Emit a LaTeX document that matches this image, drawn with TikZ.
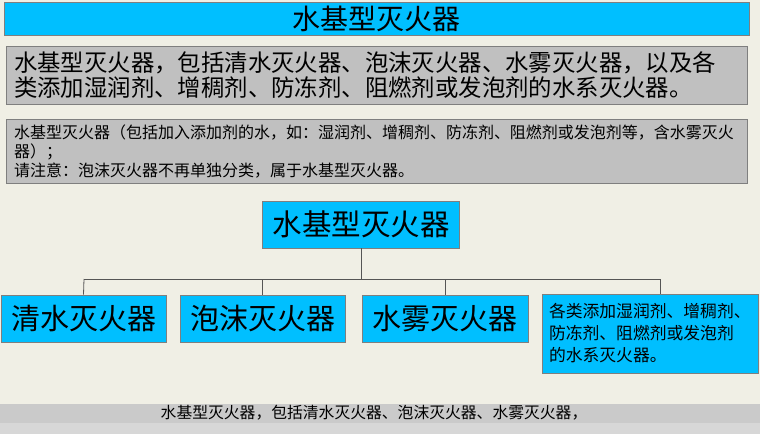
\documentclass[tikz,border=0pt]{standalone}
\usepackage{fontspec}
\setmainfont{Noto Sans CJK SC}
\definecolor{bg}{HTML}{F0EFE5}
\definecolor{skyb}{HTML}{00BFFF}
\definecolor{boxline}{HTML}{7F7F7F}
\definecolor{grayfill}{HTML}{C0C0C0}
\definecolor{barA}{HTML}{CACACA}
\definecolor{barB}{HTML}{D7D7D7}
\definecolor{conn}{HTML}{555555}
\begin{document}
\begin{tikzpicture}[x=1pt,y=-1pt,
  bluebox/.style={draw=boxline, fill=skyb, line width=0.8pt, inner sep=0pt, minimum height=47pt},
  graybox/.style={draw=boxline, fill=grayfill, line width=0.8pt, inner xsep=8pt, inner ysep=0pt, align=left},
  connline/.style={draw=conn, line width=0.8pt}]
\useasboundingbox (0,0) rectangle (760,434);
\fill[bg] (0,0) rectangle (760,434);
\fill[barA] (0,404) rectangle (760,423);
\fill[barB] (0,423) rectangle (760,434);

\node[bluebox, minimum width=745pt, minimum height=33pt, font=\fontsize{28}{30}\selectfont] (title) at (376.5,18.5) {水基型灭火器};

\node[graybox, minimum width=741pt, minimum height=58pt, text width=725pt, font=\fontsize{23.4}{25}\selectfont] (def) at (376.5,75.5) {水基型灭火器，包括清水灭火器、泡沫灭火器、水雾灭火器，以及各\\类添加湿润剂、增稠剂、防冻剂、阻燃剂或发泡剂的水系灭火器。};

\node[graybox, minimum width=741pt, minimum height=64pt, text width=725pt, font=\fontsize{16}{19}\selectfont] (note) at (376.5,151.5) {水基型灭火器（包括加入添加剂的水，如：湿润剂、增稠剂、防冻剂、阻燃剂或发泡剂等，含水雾灭火\\器）；\\请注意：泡沫灭火器不再单独分类，属于水基型灭火器。};

\node[bluebox, minimum width=197pt, font=\fontsize{29.5}{31}\selectfont] (mid) at (361,224.5) {水基型灭火器};

\node[bluebox, minimum width=165pt, font=\fontsize{29}{31}\selectfont] (a) at (83.5,318.5) {清水灭火器};
\node[bluebox, minimum width=165pt, font=\fontsize{29}{31}\selectfont] (b) at (262.5,318.5) {泡沫灭火器};
\node[bluebox, minimum width=166pt, font=\fontsize{29}{31}\selectfont] (c) at (445,318.5) {水雾灭火器};
\node[bluebox, minimum width=216pt, minimum height=79pt, inner xsep=7pt, text width=202pt, align=left, font=\fontsize{16.8}{22}\selectfont] (d) at (650,333.5) {各类添加湿润剂、增稠剂、\\防冻剂、阻燃剂或发泡剂\\的水系灭火器。};

\coordinate (busL) at (84,279);
\coordinate (busR) at (660,279);
\draw[connline] (mid.south) -- (mid.south |- busL);
\draw[connline] (busL) -- (busR);
\draw[connline] (busL) -- (a.north);
\draw[connline] (b.north |- busL) -- (b.north);
\draw[connline] (c.north |- busL) -- (c.north);
\draw[connline] (busR) -- (busR |- d.north);

\node[inner sep=0pt, font=\fontsize{15.8}{17}\selectfont] (bar) at (374,413) {水基型灭火器，包括清水灭火器、泡沫灭火器、水雾灭火器，};
\end{tikzpicture}
\end{document}
